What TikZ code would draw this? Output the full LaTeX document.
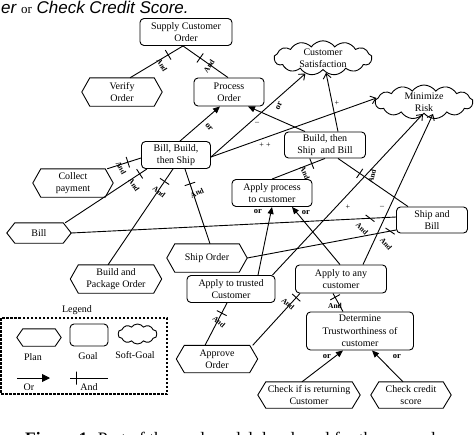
\documentclass[tikz,border=0pt]{standalone}
\usepackage{fontspec}
\setmainfont{Liberation Serif}
\setsansfont{Liberation Sans}
\usetikzlibrary{shapes.symbols,arrows.meta}
\newcommand{\nf}{\fontsize{10}{12.3}\selectfont}
\newcommand{\plannode}[6][8pt]{%
  \node[plan, minimum width=#4, minimum height=#5] (#2) at (#3) {#6};
  \draw[planline] (#2.west) -- ([xshift=#1]#2.north west) -- ([xshift=-#1]#2.north east) -- (#2.east) -- ([xshift=-#1]#2.south east) -- ([xshift=#1]#2.south west) -- cycle;}
\begin{document}
\begin{tikzpicture}[x=1pt,y=-1pt,
  goal/.style={draw, rounded corners=4pt, line width=0.9pt, align=center, inner sep=1pt, font=\nf},
  plan/.style={align=center, inner sep=1pt, font=\nf},
  planline/.style={line width=0.9pt, line join=miter},
  soft/.style={cloud, draw, cloud puffs=13, cloud puff arc=110, cloud ignores aspect, line width=0.9pt, align=center, inner sep=0pt, font=\nf},
  link/.style={line width=0.9pt},
  orarrow/.style={link, -{Triangle[length=7pt,width=6pt]}},
  contrib/.style={link, -{Straight Barb[length=5pt,width=8pt,line width=0.9pt]}},
  andtick/.style={draw, sloped, rectangle, inner sep=0pt, minimum width=0pt, minimum height=11pt, line width=0.9pt},
  andlab/.style={font=\bfseries\fontsize{7.5}{8}\selectfont, inner sep=0pt},
  orlab/.style={font=\bfseries\fontsize{8.5}{9}\selectfont, inner sep=0pt},
  sign/.style={font=\fontsize{8}{9}\selectfont, inner sep=0pt},
  legtext/.style={font=\nf, inner sep=0pt}
]
\useasboundingbox (0,0) rectangle (474,434);
\clip (0,0) rectangle (474,434);

% header and caption fragments
\node[anchor=base west, inner sep=0pt] (head) at (1,13) {\fontsize{17}{19}\selectfont\sffamily\itshape er {\rmfamily\upshape\fontsize{13}{15}\selectfont or} Check Credit Score.};
\node[anchor=base west, inner sep=0pt] (cap) at (25,444) {\fontsize{17.5}{19}\selectfont\textbf{Figure 1.} Part of the goal model developed for the example};

% nodes
\node[goal, minimum width=92pt, minimum height=27pt] (sco) at (186,32) {Supply Customer\\Order};
\plannode{vo}{122,92}{80pt}{28pt}{Verify\\Order}
\node[goal, minimum width=70pt, minimum height=28pt] (po) at (229,92) {Process\\Order};
\node[soft, minimum width=98pt, minimum height=33pt] (cs) at (323,58) {Customer\\Satisfaction};
\node[soft, minimum width=98pt, minimum height=34pt] (mr) at (424,102) {Minimize\\Risk};
\node[goal, minimum width=69pt, minimum height=27pt] (bbs) at (176,155) {Bill, Build,\\then Ship};
\plannode{cp}{73,183}{80pt}{28pt}{Collect\\payment}
\plannode{bill}{39,233}{64pt}{20pt}{Bill}
\node[goal, minimum width=81pt, minimum height=26pt] (btsb) at (325,145) {Build, then\\Ship\ \ and Bill};
\node[goal, minimum width=80pt, minimum height=27pt] (apc) at (272,193) {Apply process\\to customer};
\node[goal, minimum width=71pt, minimum height=26pt] (sab) at (432,220) {Ship and\\Bill};
\plannode{so}{207,258}{80pt}{28pt}{Ship Order}
\plannode{bpo}{116,279}{91pt}{28pt}{Build and\\Package Order}
\node[goal, minimum width=88pt, minimum height=27pt] (atc) at (231,289) {Apply to trusted\\Customer};
\node[goal, minimum width=91pt, minimum height=28pt] (aac) at (341,279) {Apply to any\\customer};
\node[goal, minimum width=107pt, minimum height=38pt] (dtc) at (360,331) {Determine\\Trustworthiness of\\customer};
\plannode{ao}{217,359}{81pt}{27pt}{Approve\\Order}
\plannode{cir}{309,395}{102pt}{26pt}{Check if is returning\\Customer}
\plannode{ccs}{411,395}{80pt}{26pt}{Check credit\\score}

% AND decompositions
\draw[link] ([xshift=-3pt]sco.south) -- node[andtick,pos=0.28] (t1) {} ([xshift=8pt]vo.north);
\draw[link] ([xshift=-3pt]sco.south) -- node[andtick,pos=0.38] (t2) {} ([xshift=-1pt]po.north);
\draw[link] ([yshift=-3pt]bbs.west) -- node[andtick,pos=0.39] (t3) {} ([xshift=-6pt]cp.north east);
\draw[link] ([xshift=-29pt]bbs.south) -- node[andtick,pos=0.09] (t4) {} ([xshift=-6pt]bill.north east);
\draw[link] ([xshift=-3pt]bbs.south) -- node[andtick,pos=0.13] (t5) {} ([xshift=-8pt]bpo.north);
\draw[link] ([xshift=9pt]bbs.south) -- node[andtick,pos=0.2] (t6) {} ([xshift=3pt]so.north);
\draw[link] (btsb.south) -- node[andtick,pos=0.25] (t7) {} (apc.north);
\draw[link] ([xshift=13pt]btsb.south) -- node[andtick,pos=0.31] (t8) {} ([xshift=-24pt]sab.north);
\draw[link] (bill.east) -- node[andtick,pos=0.92,rotate=50] (t9) {} ([yshift=3pt]sab.west);
\draw[link] (so.east) -- node[andtick,pos=0.96,rotate=45] (t10) {} ([yshift=-10pt]sab.west);
\draw[link] ([xshift=-12pt]ao.north) -- node[andtick,pos=0.76] (t11) {} ([xshift=-4pt]atc.south);
\draw[link] ([xshift=-5pt]ao.north east) -- node[andtick,pos=0.92] (t12) {} ([xshift=-41pt]aac.south);
\draw[link] ([xshift=-17pt]dtc.north) -- node[andtick,pos=0.79] (t13) {} ([xshift=-8pt]aac.south);

\node[andlab, rotate=-60] (l1) at (162,65) {And};
\node[andlab, rotate=56] (l2) at (209,66) {And};
\node[andlab, rotate=-62] (l3) at (121,168) {And};
\node[andlab, rotate=-56] (l4) at (134,185) {And};
\node[andlab, rotate=-38] (l5) at (159,192) {And};
\node[andlab, rotate=25] (l6) at (197,193) {And};
\node[andlab, rotate=-67] (l7) at (305,173) {And};
\node[andlab, rotate=75] (l8) at (372,176) {And};
\node[andlab, rotate=-45] (l9) at (362,229) {And};
\node[andlab, rotate=-50] (l10) at (386,244) {And};
\node[andlab, rotate=-42] (l11) at (219,322) {And};
\node[andlab, rotate=-42] (l12) at (288,304) {And};
\node[andlab] (l13) at (335,306) {And};

% OR (means-end)
\draw[orarrow] ([xshift=4pt]bbs.north) -- ([xshift=-9pt]po.south);
\draw[orarrow] ([xshift=-20pt]btsb.north) -- ([xshift=19pt]po.south);
\draw[orarrow] ([xshift=27pt]atc.north) -- (apc.south);
\draw[orarrow] ([xshift=-1pt]aac.north) -- ([xshift=20pt]apc.south);
\draw[orarrow] ([xshift=-7pt]cir.north) -- ([xshift=-17pt]dtc.south);
\draw[orarrow] ([xshift=-8pt]ccs.north) -- ([xshift=12pt]dtc.south);

\node[orlab, rotate=-50] (o1) at (209,127) {or};
\node[orlab, rotate=65] (o2) at (279,106) {or};
\node[orlab] (o3) at (258,212) {or};
\node[orlab] (o4) at (306,213) {or};
\node[orlab] (o5) at (327,357) {or};
\node[orlab] (o6) at (397,357) {or};

% contributions to soft-goals
\draw[contrib] ([yshift=-2pt]bbs.east) -- (cs);
\draw[contrib] ([yshift=-2pt]bbs.east) -- ([xshift=2pt,yshift=4pt]mr.west);
\draw[contrib] ([xshift=13pt]btsb.north) -- (cs);
\draw[contrib] ([xshift=-3pt]atc.north east) -- ([xshift=-1pt]mr.south);
\draw[contrib] ([xshift=22pt]aac.north) -- ([xshift=9pt]mr.south);

\node[sign] (s1) at (257,123) {–};
\node[sign] (s2) at (265,145) {+ +};
\node[sign] (s3) at (337,103) {+};
\node[sign] (s4) at (348,207) {+};
\node[sign] (s5) at (382,207) {–};

% legend
\node[draw, dash pattern=on 2.5pt off 1.5pt, line width=1.2pt, minimum width=166pt, minimum height=76pt, inner sep=0pt] (legend) at (84,356) {};
\node[legtext] (leglab) at (77,310) {Legend};
\plannode[6pt]{lplan}{39,337.5}{44pt}{17pt}{}
\node[goal, minimum width=38pt, minimum height=22pt] (lgoal) at (89,335) {};
\node[soft, cloud puffs=10, minimum width=39pt, minimum height=20pt] (lsoft) at (137.5,334) {};
\node[legtext] (lplant) at (33,357) {Plan};
\node[legtext] (lgoalt) at (88,356) {Goal};
\node[legtext] (lsoftt) at (135,355) {Soft-Goal};
\coordinate (ora) at (17,378);
\coordinate (orb) at (50,378);
\draw[link, -{Triangle[length=8pt,width=8pt]}] (ora) -- (orb);
\node[legtext] (lort) at (29,387) {Or};
\coordinate (anda) at (70,378);
\coordinate (andb) at (108,378);
\draw[link] (anda) -- node[andtick, pos=0.16, minimum height=13pt] (lt) {} (andb);
\node[legtext] (landt) at (89,387) {And};
\end{tikzpicture}
\end{document}
